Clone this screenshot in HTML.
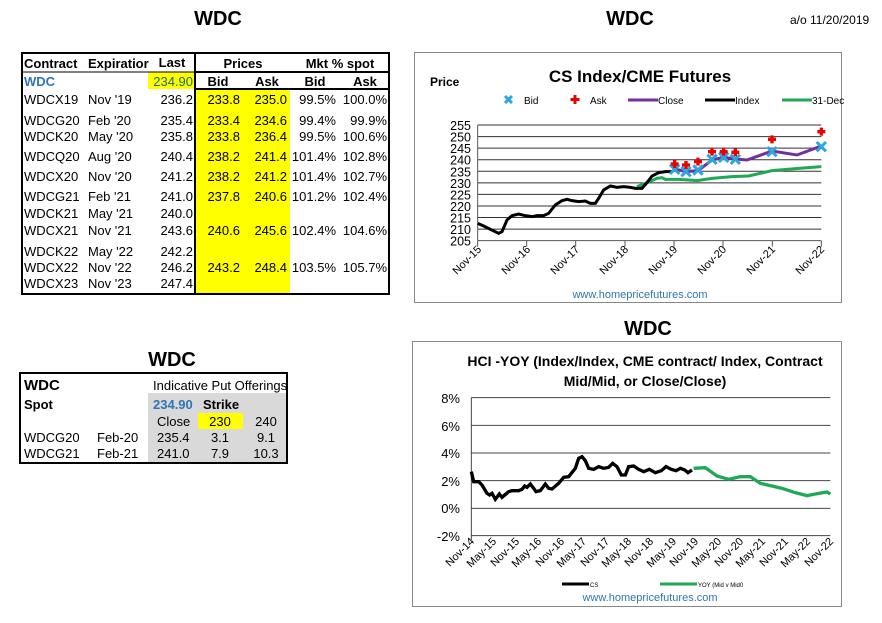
<!DOCTYPE html>
<html><head><meta charset="utf-8"><style>
body{margin:0;background:#fff;}
svg text{font-family:"Liberation Sans",Arial,sans-serif;}
</style></head><body>
<svg width="882" height="618" viewBox="0 0 882 618" xmlns="http://www.w3.org/2000/svg">
<rect width="882" height="618" fill="#fff"/>
<!-- titles -->
<text x="218" y="25" font-size="20" font-weight="bold" text-anchor="middle">WDC</text>
<text x="630" y="25" font-size="20" font-weight="bold" text-anchor="middle">WDC</text>
<text x="790" y="24" font-size="12">a/o  11/20/2019</text>
<text x="648" y="335" font-size="20" font-weight="bold" text-anchor="middle">WDC</text>
<text x="172" y="366" font-size="20" font-weight="bold" text-anchor="middle">WDC</text>

<!-- Table 1 -->
<rect x="195" y="89" width="95" height="205" fill="#ffff00"/>
<rect x="148" y="72" width="46" height="17" fill="#ffff00"/>
<rect x="22" y="53" width="367" height="241" fill="none" stroke="#000" stroke-width="2"/>
<line x1="22" y1="72" x2="195" y2="72" stroke="#000" stroke-width="1"/>
<line x1="195" y1="53" x2="195" y2="294" stroke="#000" stroke-width="2"/>
<line x1="195" y1="72" x2="389" y2="72" stroke="#000" stroke-width="2"/>
<line x1="195" y1="89" x2="389" y2="89" stroke="#000" stroke-width="2"/>
<g font-size="13">
<text x="24" y="68" font-weight="bold">Contract</text>
<text x="88" y="68" font-weight="bold">Expiratior</text>
<text x="172" y="67" font-weight="bold" text-anchor="middle">Last</text>
<text x="243" y="68" font-weight="bold" text-anchor="middle">Prices</text>
<text x="340" y="68" font-weight="bold" text-anchor="middle">Mkt % spot</text>
<text x="24" y="86" font-weight="bold" fill="#2e75b6">WDC</text>
<text x="193" y="86" text-anchor="end" fill="#1f6b5a">234.90</text>
<text x="218" y="86" font-weight="bold" text-anchor="middle">Bid</text>
<text x="267" y="86" font-weight="bold" text-anchor="middle">Ask</text>
<text x="315" y="86" font-weight="bold" text-anchor="middle">Bid</text>
<text x="365" y="86" font-weight="bold" text-anchor="middle">Ask</text>
</g>
<g font-size="13">
<g transform="translate(0,104)"><text x="24">WDCX19</text><text x="88">Nov '19</text><text x="193" text-anchor="end">236.2</text><text x="240" text-anchor="end">233.8</text><text x="287" text-anchor="end">235.0</text><text x="336" text-anchor="end">99.5%</text><text x="387" text-anchor="end">100.0%</text></g>
<g transform="translate(0,125)"><text x="24">WDCG20</text><text x="88">Feb '20</text><text x="193" text-anchor="end">235.4</text><text x="240" text-anchor="end">233.4</text><text x="287" text-anchor="end">234.6</text><text x="336" text-anchor="end">99.4%</text><text x="387" text-anchor="end">99.9%</text></g>
<g transform="translate(0,141)"><text x="24">WDCK20</text><text x="88">May '20</text><text x="193" text-anchor="end">235.8</text><text x="240" text-anchor="end">233.8</text><text x="287" text-anchor="end">236.4</text><text x="336" text-anchor="end">99.5%</text><text x="387" text-anchor="end">100.6%</text></g>
<g transform="translate(0,161)"><text x="24">WDCQ20</text><text x="88">Aug '20</text><text x="193" text-anchor="end">240.4</text><text x="240" text-anchor="end">238.2</text><text x="287" text-anchor="end">241.4</text><text x="336" text-anchor="end">101.4%</text><text x="387" text-anchor="end">102.8%</text></g>
<g transform="translate(0,181)"><text x="24">WDCX20</text><text x="88">Nov '20</text><text x="193" text-anchor="end">241.2</text><text x="240" text-anchor="end">238.2</text><text x="287" text-anchor="end">241.2</text><text x="336" text-anchor="end">101.4%</text><text x="387" text-anchor="end">102.7%</text></g>
<g transform="translate(0,201)"><text x="24">WDCG21</text><text x="88">Feb '21</text><text x="193" text-anchor="end">241.0</text><text x="240" text-anchor="end">237.8</text><text x="287" text-anchor="end">240.6</text><text x="336" text-anchor="end">101.2%</text><text x="387" text-anchor="end">102.4%</text></g>
<g transform="translate(0,218)"><text x="24">WDCK21</text><text x="88">May '21</text><text x="193" text-anchor="end">240.0</text></g>
<g transform="translate(0,235)"><text x="24">WDCX21</text><text x="88">Nov '21</text><text x="193" text-anchor="end">243.6</text><text x="240" text-anchor="end">240.6</text><text x="287" text-anchor="end">245.6</text><text x="336" text-anchor="end">102.4%</text><text x="387" text-anchor="end">104.6%</text></g>
<g transform="translate(0,256)"><text x="24">WDCK22</text><text x="88">May '22</text><text x="193" text-anchor="end">242.2</text></g>
<g transform="translate(0,272)"><text x="24">WDCX22</text><text x="88">Nov '22</text><text x="193" text-anchor="end">246.2</text><text x="240" text-anchor="end">243.2</text><text x="287" text-anchor="end">248.4</text><text x="336" text-anchor="end">103.5%</text><text x="387" text-anchor="end">105.7%</text></g>
<g transform="translate(0,288)"><text x="24">WDCX23</text><text x="88">Nov '23</text><text x="193" text-anchor="end">247.4</text></g>
</g>

<!-- Table 2 -->
<rect x="148" y="393" width="139" height="70" fill="#d9d9d9"/>
<rect x="198" y="413" width="45" height="16" fill="#ffff00"/>
<rect x="20" y="373" width="267" height="90" fill="none" stroke="#000" stroke-width="2"/>
<g font-size="13">
<text x="24" y="390" font-weight="bold" font-size="15">WDC</text>
<text x="153" y="390">Indicative Put Offerings</text>
<text x="24" y="409" font-weight="bold">Spot</text>
<text x="153" y="409" font-weight="bold" fill="#2e75b6">234.90</text>
<text x="203" y="409" font-weight="bold">Strike</text>
<text x="157" y="426">Close</text>
<text x="220" y="426" text-anchor="middle">230</text>
<text x="266" y="426" text-anchor="middle">240</text>
<text x="24" y="442">WDCG20</text><text x="97" y="442">Feb-20</text><text x="157" y="442">235.4</text><text x="220" y="442" text-anchor="middle">3.1</text><text x="266" y="442" text-anchor="middle">9.1</text>
<text x="24" y="458">WDCG21</text><text x="97" y="458">Feb-21</text><text x="157" y="458">241.0</text><text x="220" y="458" text-anchor="middle">7.9</text><text x="266" y="458" text-anchor="middle">10.3</text>
</g>

<!-- Chart 1 -->
<rect x="414.5" y="52.5" width="427" height="250" fill="#fff" stroke="#888" stroke-width="1"/>
<text x="640" y="82" font-size="17" font-weight="bold" text-anchor="middle">CS Index/CME Futures</text>
<text x="430" y="86" font-size="12" font-weight="bold">Price</text>
<g font-size="10">
<path d="M505,96l7,7M512,96l-7,7" stroke="#29a8e0" stroke-width="3"/><text x="524" y="104">Bid</text>
<path d="M575,95v9M570.5,99.5h9" stroke="#e00" stroke-width="3"/><text x="590" y="104">Ask</text>
<line x1="628" y1="100" x2="658" y2="100" stroke="#7030a0" stroke-width="3"/><text x="658" y="104">Close</text>
<line x1="705" y1="100" x2="735" y2="100" stroke="#000" stroke-width="3"/><text x="735" y="104">Index</text>
<line x1="782" y1="100" x2="812" y2="100" stroke="#1fa855" stroke-width="3"/><text x="812" y="104">31-Dec</text>
</g>
<g transform="translate(412,50) scale(0.33333)">
<g stroke="#333" stroke-width="3">
<line x1="197" y1="225" x2="1228" y2="225"/><line x1="197" y1="259.7" x2="1228" y2="259.7"/><line x1="197" y1="294.4" x2="1228" y2="294.4"/><line x1="197" y1="329.1" x2="1228" y2="329.1"/><line x1="197" y1="363.8" x2="1228" y2="363.8"/><line x1="197" y1="398.5" x2="1228" y2="398.5"/><line x1="197" y1="433.2" x2="1228" y2="433.2"/><line x1="197" y1="467.9" x2="1228" y2="467.9"/><line x1="197" y1="502.6" x2="1228" y2="502.6"/><line x1="197" y1="537.3" x2="1228" y2="537.3"/>
</g>
<line x1="197" y1="572" x2="1228" y2="572" stroke="#555" stroke-width="3"/>
<line x1="197" y1="225" x2="197" y2="572" stroke="#555" stroke-width="3"/>
<g stroke="#555" stroke-width="3">
<line x1="344" y1="572" x2="344" y2="590"/><line x1="491" y1="572" x2="491" y2="590"/><line x1="639" y1="572" x2="639" y2="590"/><line x1="786" y1="572" x2="786" y2="590"/><line x1="933" y1="572" x2="933" y2="590"/><line x1="1081" y1="572" x2="1081" y2="590"/><line x1="1228" y1="572" x2="1228" y2="590"/><line x1="197" y1="572" x2="197" y2="590"/>
</g>
<polyline fill="none" stroke="#1fa855" stroke-width="9" points="675,410 700,400 735,385 750,383 760,388 800,388 830,390 855,392 900,385 960,380 1010,378 1080,362 1160,355 1228,350"/>
<polyline fill="none" stroke="#000" stroke-width="9" points="197,520 215,528 235,538 260,550 270,545 285,510 300,497 320,492 340,497 360,500 375,497 395,497 410,490 430,465 450,452 465,448 480,452 500,455 520,453 535,460 550,460 560,445 575,420 595,408 615,412 635,410 655,412 670,415 690,415 705,398 720,378 740,368 760,365 780,365"/>
<polyline fill="none" stroke="#7030a0" stroke-width="9" points="788,357 822,365 858,362 900,330 935,322 970,327 1005,330 1080,303 1155,315 1228,288"/>
<g stroke="#29a8e0" stroke-width="9">
<path d="M774,344l28,28M802,344l-28,28 M808,351l28,28M836,351l-28,28 M844,346l28,28M872,346l-28,28 M886,314l28,28M914,314l-28,28 M921,308l28,28M949,308l-28,28 M956,314l28,28M984,314l-28,28 M1066,291l28,28M1094,291l-28,28 M1214,276l28,28M1242,276l-28,28"/>
</g>
<g stroke="#e00" stroke-width="10">
<path d="M788,330v24M776,342h24 M822,333v24M810,345h24 M858,323v24M846,335h24 M900,293v24M888,305h24 M935,293v24M923,305h24 M970,295v24M958,307h24 M1080,256v24M1068,268h24 M1228,233v24M1216,245h24"/>
</g>
</g>
<g font-size="12.5" text-anchor="end">
<text x="471" y="130">255</text><text x="471" y="141.6">250</text><text x="471" y="153.1">245</text><text x="471" y="164.7">240</text><text x="471" y="176.3">235</text><text x="471" y="187.8">230</text><text x="471" y="199.4">225</text><text x="471" y="211">220</text><text x="471" y="222.5">215</text><text x="471" y="234.1">210</text><text x="471" y="245.7">205</text>
</g>
<g font-size="11" text-anchor="end">
<text transform="translate(482,250) rotate(-45)">Nov-15</text>
<text transform="translate(531,250) rotate(-45)">Nov-16</text>
<text transform="translate(580,250) rotate(-45)">Nov-17</text>
<text transform="translate(629,250) rotate(-45)">Nov-18</text>
<text transform="translate(678,250) rotate(-45)">Nov-19</text>
<text transform="translate(727,250) rotate(-45)">Nov-20</text>
<text transform="translate(776,250) rotate(-45)">Nov-21</text>
<text transform="translate(825,250) rotate(-45)">Nov-22</text>
</g>
<text x="640" y="298" font-size="11" fill="#2e75b6" text-anchor="middle">www.homepricefutures.com</text>

<!-- Chart 2 -->
<rect x="412.5" y="341.5" width="429" height="265" fill="#fff" stroke="#888" stroke-width="1"/>
<text x="645" y="366" font-size="14" font-weight="bold" text-anchor="middle">HCI -YOY (Index/Index, CME contract/ Index, Contract</text>
<text x="645" y="386" font-size="14" font-weight="bold" text-anchor="middle">Mid/Mid, or Close/Close)</text>
<g transform="translate(412,340) scale(0.33333)">
<g stroke="#444" stroke-width="3">
<line x1="178" y1="173" x2="1255" y2="173"/><line x1="178" y1="256" x2="1255" y2="256"/><line x1="178" y1="339" x2="1255" y2="339"/><line x1="178" y1="422" x2="1255" y2="422"/><line x1="178" y1="505" x2="1255" y2="505"/><line x1="178" y1="587" x2="1255" y2="587"/>
<line x1="178" y1="173" x2="178" y2="600"/>
</g>
<polyline fill="none" stroke="#1fa855" stroke-width="10" points="845,385 880,383 915,408 950,418 985,410 1015,410 1045,430 1110,445 1150,458 1185,467 1210,462 1245,456 1255,462"/>
<polyline fill="none" stroke="#000" stroke-width="10" points="178,395 185,425 200,425 210,435 225,460 233,465 240,460 250,478 262,462 270,472 290,455 300,452 320,452 330,448 338,438 345,442 355,432 365,445 372,455 385,452 400,432 410,445 420,447 440,430 455,412 470,410 490,385 500,355 510,350 520,362 530,385 545,388 560,380 575,385 590,382 602,370 615,380 628,405 640,405 650,380 665,378 680,388 695,395 712,388 730,398 748,392 762,380 778,388 792,392 805,385 818,390 828,398 840,390"/>
</g>
<g font-size="13" text-anchor="end">
<text x="460" y="403">8%</text><text x="460" y="431">6%</text><text x="460" y="458">4%</text><text x="460" y="486">2%</text><text x="460" y="513">0%</text><text x="460" y="541">-2%</text>
</g>
<g font-size="11" text-anchor="end">
<text transform="translate(475,542) rotate(-45)">Nov-14</text>
<text transform="translate(497,542) rotate(-45)">May-15</text>
<text transform="translate(520,542) rotate(-45)">Nov-15</text>
<text transform="translate(542,542) rotate(-45)">May-16</text>
<text transform="translate(565,542) rotate(-45)">Nov-16</text>
<text transform="translate(587,542) rotate(-45)">May-17</text>
<text transform="translate(610,542) rotate(-45)">Nov-17</text>
<text transform="translate(632,542) rotate(-45)">May-18</text>
<text transform="translate(654,542) rotate(-45)">Nov-18</text>
<text transform="translate(677,542) rotate(-45)">May-19</text>
<text transform="translate(699,542) rotate(-45)">Nov-19</text>
<text transform="translate(722,542) rotate(-45)">May-20</text>
<text transform="translate(744,542) rotate(-45)">Nov-20</text>
<text transform="translate(766,542) rotate(-45)">May-21</text>
<text transform="translate(789,542) rotate(-45)">Nov-21</text>
<text transform="translate(811,542) rotate(-45)">May-22</text>
<text transform="translate(834,542) rotate(-45)">Nov-22</text>
</g>
<line x1="562" y1="584" x2="589" y2="584" stroke="#000" stroke-width="3"/>
<text x="590" y="587" font-size="6">CS</text>
<line x1="660" y1="584" x2="697" y2="584" stroke="#1fa855" stroke-width="3"/>
<text x="698" y="587" font-size="6">YOY (Mid v Mid0</text>
<text x="650" y="601" font-size="11" fill="#2e75b6" text-anchor="middle">www.homepricefutures.com</text>
</svg>
</body></html>
